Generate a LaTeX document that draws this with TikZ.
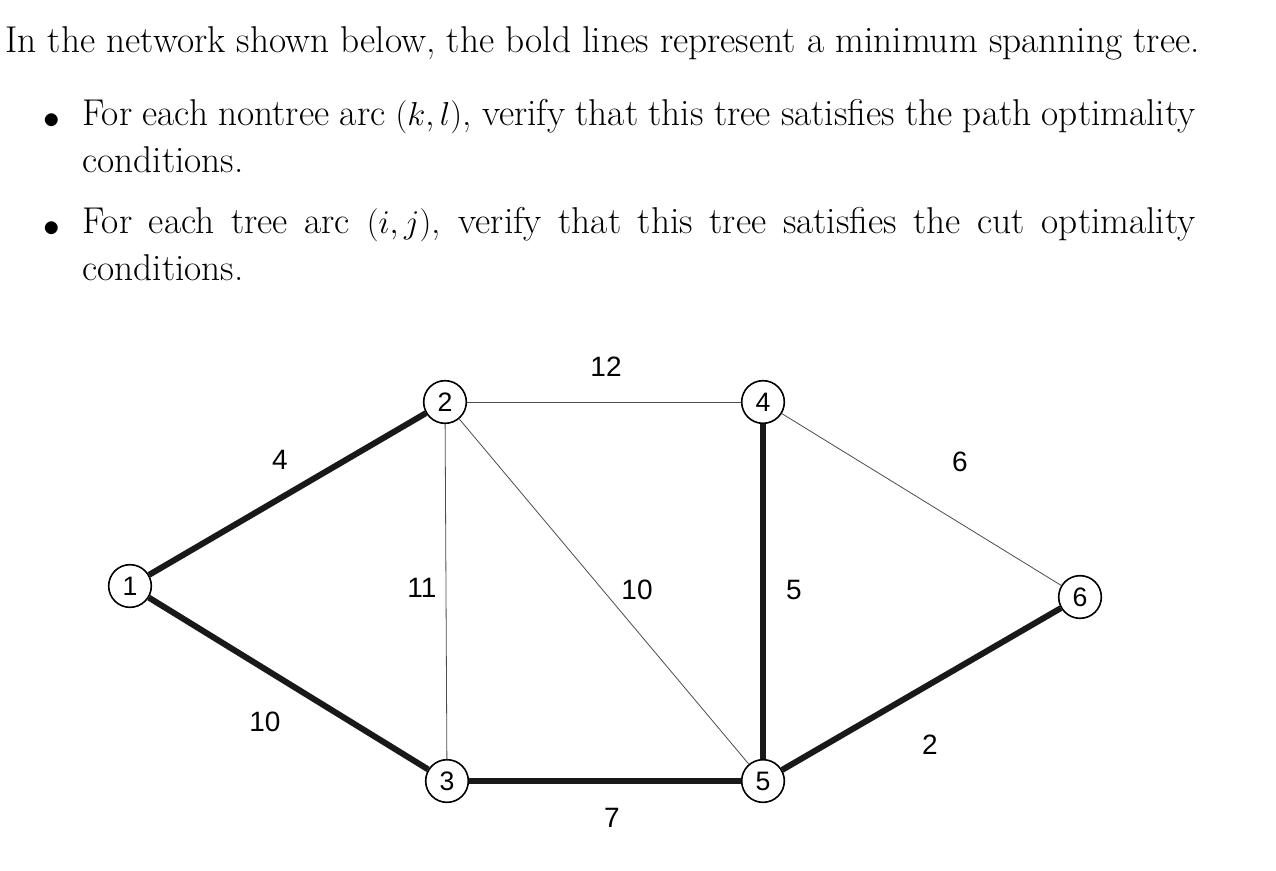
\documentclass[tikz,border=0pt]{standalone}
\usepackage{fontspec}
\newfontfamily\arialf{Liberation Sans}
\begin{document}
\begin{tikzpicture}[x=0.75pt,y=-0.75pt,
  vtx/.style={circle,draw,line width=1.2pt,minimum size=32pt,inner sep=0pt,font=\arialf\fontsize{20}{20}\selectfont,fill=white},
  tree/.style={line width=4.5pt,black!90},
  thin/.style={line width=0.6pt,black!70},
  lbl/.style={font=\arialf\fontsize{21}{21}\selectfont},
  txt/.style={inner sep=0pt,font=\fontsize{28}{35}\selectfont}]
\useasboundingbox (0,0) rectangle (1276,870);
\node[txt,anchor=base west] (t0) at (5,53) {In the network shown below, the bold lines represent a minimum spanning tree.};
\node[txt,anchor=base] (b1) at (52,128) {$\bullet$};
\node[txt,anchor=north west,text width=835pt,align=justify] (t1) at (82,99) {For each nontree arc $(k,l)$, verify that this tree satisfies the path optimality conditions.};
\node[txt,anchor=base] (b2) at (52,236) {$\bullet$};
\node[txt,anchor=north west,text width=835pt,align=justify] (t2) at (82,207) {For each tree arc $(i,j)$, verify that this tree satisfies the cut optimality conditions.};
\node[vtx] (n1) at (130,586) {1};
\node[vtx] (n2) at (445,402) {2};
\node[vtx] (n3) at (447,781) {3};
\node[vtx] (n4) at (763,402) {4};
\node[vtx] (n5) at (763,781) {5};
\node[vtx] (n6) at (1080,597) {6};
\draw[tree] (n1) -- (n2);
\draw[tree] (n1) -- (n3);
\draw[tree] (n3) -- (n5);
\draw[tree] (n4) -- (n5);
\draw[tree] (n5) -- (n6);
\draw[thin] (n2) -- (n4);
\draw[thin] (n2) -- (n3);
\draw[thin] (n2) -- (n5);
\draw[thin] (n4) -- (n6);
\node[lbl] (l4) at (280,460) {4};
\node[lbl] (l10a) at (265,722) {10};
\node[lbl] (l11) at (422,588) {11};
\node[lbl] (l12) at (606,367) {12};
\node[lbl] (l10b) at (637,590) {10};
\node[lbl] (l5) at (794,590) {5};
\node[lbl] (l6) at (960,462) {6};
\node[lbl] (l2) at (930,745) {2};
\node[lbl] (l7) at (612,818) {7};
\end{tikzpicture}
\end{document}
